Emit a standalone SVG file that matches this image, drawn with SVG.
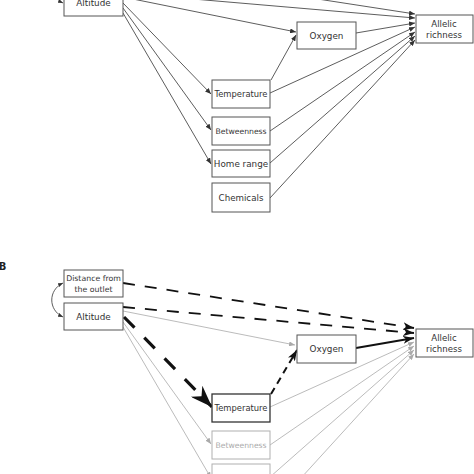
<svg xmlns="http://www.w3.org/2000/svg" width="474" height="474" viewBox="0 0 474 474">
<style>
.box{fill:#fff;stroke:#555;stroke-width:1}
.boxg{fill:#fff;stroke:#b0b0b0;stroke-width:1}
.boxd{fill:#fff;stroke:#333;stroke-width:1.3}
text{font-family:"DejaVu Sans","Liberation Sans",sans-serif;fill:#333;text-anchor:middle;dominant-baseline:central}
text.g{fill:#aaa}
.e{fill:none;stroke:#333;stroke-width:0.8}
.eg{fill:none;stroke:#aaa;stroke-width:0.8}
.ed{fill:none;stroke:#111;stroke-width:1.8;stroke-dasharray:12 10}
.es{fill:none;stroke:#111;stroke-width:1.8}
.eb{fill:none;stroke:#111;stroke-width:3.2;stroke-dasharray:15 14}
.et{fill:none;stroke:#111;stroke-width:2;stroke-dasharray:7 5}
</style>
<defs>
<marker id="a" markerUnits="userSpaceOnUse" markerWidth="6" markerHeight="5" refX="6" refY="2.5" orient="auto"><path d="M0,0 L6,2.5 L0,5 z" fill="#333"/></marker>
<marker id="ag" markerUnits="userSpaceOnUse" markerWidth="6" markerHeight="5" refX="6" refY="2.5" orient="auto"><path d="M0,0 L6,2.5 L0,5 z" fill="#aaa"/></marker>
<marker id="ab" markerUnits="userSpaceOnUse" markerWidth="11" markerHeight="8" refX="11" refY="4" orient="auto"><path d="M0,0 L11,4 L0,8 L3,4 z" fill="#111"/></marker>
<marker id="abig" markerUnits="userSpaceOnUse" markerWidth="22" markerHeight="16" refX="22" refY="8" orient="auto"><path d="M0,0 L22,8 L0,16 L7,8 z" fill="#111"/></marker>
<marker id="ac" markerUnits="userSpaceOnUse" markerWidth="5" markerHeight="4" refX="5" refY="2" orient="auto"><path d="M0,0 L5,2 L0,4 z" fill="#333"/></marker>
<marker id="acs" markerUnits="userSpaceOnUse" markerWidth="5" markerHeight="4" refX="0" refY="2" orient="auto"><path d="M5,0 L0,2 L5,4 z" fill="#333"/></marker>
</defs>

<g id="connectors-A">
<path class="e" d="M63,-31 C48,-24 48,-4 63,3" marker-start="url(#acs)" marker-end="url(#ac)"/>
<path class="e" d="M123,-31 L415,14" marker-end="url(#a)"/>
<path class="e" d="M123,-7 L415,18" marker-end="url(#a)"/>
<path class="e" d="M356,33 L415,23" marker-end="url(#a)"/>
<path class="e" d="M270,93 L415,27" marker-end="url(#a)"/>
<path class="e" d="M270,131 L415,32" marker-end="url(#a)"/>
<path class="e" d="M270,163 L415,36" marker-end="url(#a)"/>
<path class="e" d="M270,198 L415,40" marker-end="url(#a)"/>
<path class="e" d="M123,-3 L296,32" marker-end="url(#a)"/>
<path class="e" d="M271,80 L296,35" marker-end="url(#a)"/>
<path class="e" d="M123,3 L211,94" marker-end="url(#a)"/>
<path class="e" d="M123,8 L211,130" marker-end="url(#a)"/>
<path class="e" d="M123,13 L211,164" marker-end="url(#a)"/>
</g>

<g id="node-A-altitude"><rect class="box" x="64" y="-11" width="59" height="27"/><text x="93.5" y="3" font-size="8.8">Altitude</text></g>
<g id="node-A-oxygen"><rect class="box" x="297" y="22" width="59" height="27"/><text x="326.5" y="35.5" font-size="8.8">Oxygen</text></g>
<g id="node-A-allelic"><rect class="box" x="416" y="15" width="57" height="28"/><text x="444" y="24" font-size="8.6">Allelic</text><text x="444" y="34.5" font-size="8.6">richness</text></g>
<g id="node-A-temperature"><rect class="box" x="212" y="80" width="58" height="28"/><text x="241" y="94" font-size="8.4">Temperature</text></g>
<g id="node-A-betweenness"><rect class="box" x="212" y="117" width="58" height="28"/><text x="241" y="131" font-size="7.7">Betweenness</text></g>
<g id="node-A-homerange"><rect class="box" x="212" y="150" width="58" height="27"/><text x="241" y="163.5" font-size="8.8">Home range</text></g>
<g id="node-A-chemicals"><rect class="box" x="212" y="183" width="58" height="29"/><text x="241" y="197.5" font-size="8.7">Chemicals</text></g>

<text x="2.5" y="266.5" font-size="10" font-weight="bold" style="fill:#222">B</text>

<g id="connectors-B">
<path class="e" d="M63,283 C48,290 48,310 63,317" marker-start="url(#acs)" marker-end="url(#ac)"/>
<path class="eg" d="M123,311 L295,345" marker-end="url(#ag)"/>
<path class="eg" d="M270,407 L414,342" marker-end="url(#ag)"/>
<path class="eg" d="M270,445 L414,346" marker-end="url(#ag)"/>
<path class="eg" d="M270,477 L414,350" marker-end="url(#ag)"/>
<path class="eg" d="M270,512 L414,354" marker-end="url(#ag)"/>
<path class="eg" d="M123,322 L211,444" marker-end="url(#ag)"/>
<path class="eg" d="M123,327 L211,478" marker-end="url(#ag)"/>
<path class="ed" d="M123,283 L414,328" marker-end="url(#ab)"/>
<path class="ed" d="M123,307 L414,333" marker-end="url(#ab)"/>
<path class="es" d="M356,348 L414,338" marker-end="url(#ab)"/>
<path class="eb" d="M124,317 L212,407" marker-end="url(#abig)"/>
<path class="et" d="M271,394 L297,350" marker-end="url(#ab)"/>
</g>

<g id="node-B-distance"><rect class="box" x="64" y="270" width="59" height="27"/><text x="93.5" y="278.3" font-size="7.8">Distance from</text><text x="93.5" y="289" font-size="7.8">the outlet</text></g>
<g id="node-B-altitude"><rect class="box" x="64" y="303" width="59" height="27"/><text x="93.5" y="317" font-size="8.8">Altitude</text></g>
<g id="node-B-oxygen"><rect class="box" x="297" y="335" width="59" height="28"/><text x="326.5" y="349" font-size="8.8">Oxygen</text></g>
<g id="node-B-allelic"><rect class="box" x="416" y="329" width="57" height="28"/><text x="444" y="338" font-size="8.6">Allelic</text><text x="444" y="348.5" font-size="8.6">richness</text></g>
<g id="node-B-temperature"><rect class="boxd" x="212" y="394" width="58" height="28"/><text x="241" y="408" font-size="8.4">Temperature</text></g>
<g id="node-B-betweenness"><rect class="boxg" x="212" y="431" width="58" height="28"/><text class="g" x="241" y="445" font-size="7.7">Betweenness</text></g>
<g id="node-B-homerange"><rect class="boxg" x="212" y="464" width="58" height="27"/><text class="g" x="241" y="477.5" font-size="8.8">Home range</text></g>
</svg>
